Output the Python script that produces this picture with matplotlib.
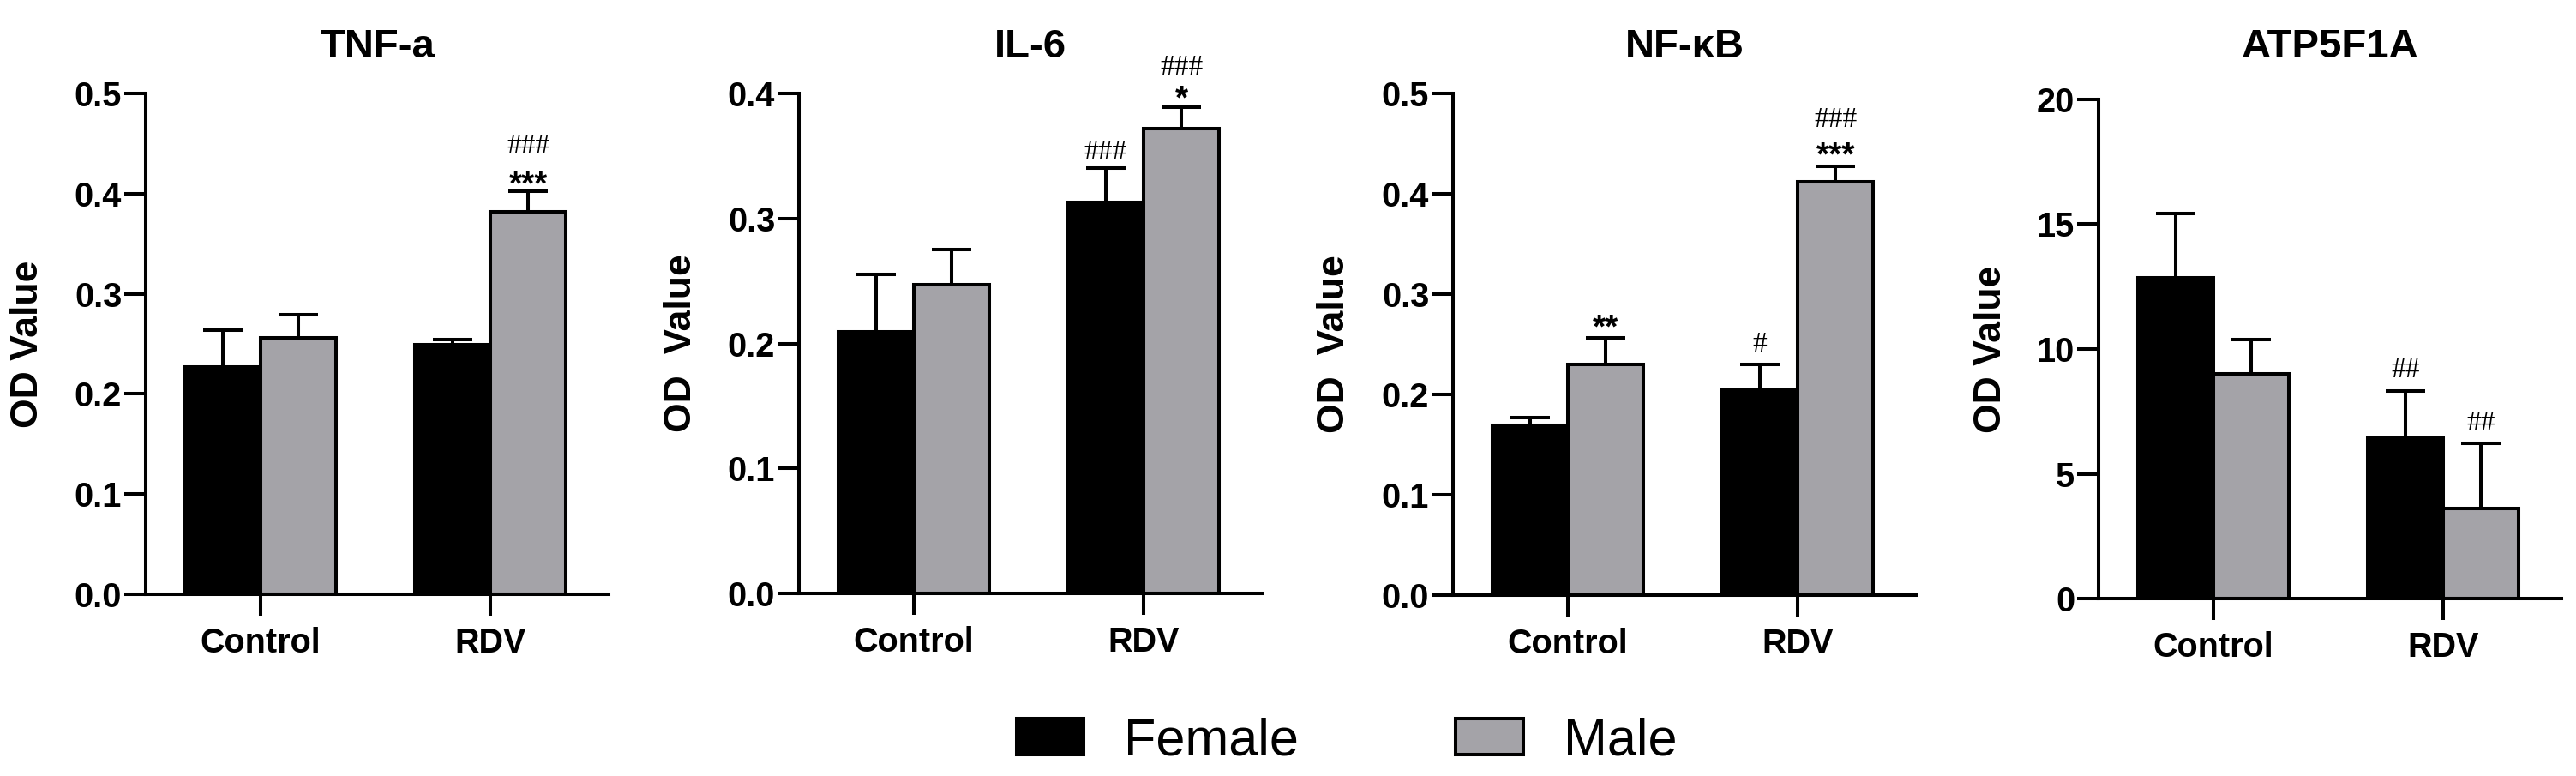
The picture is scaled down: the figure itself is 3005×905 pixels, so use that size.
import numpy as np
import matplotlib
matplotlib.use("Agg")
import matplotlib.pyplot as plt

# ---------------- data ----------------
groups = ["Control", "RDV"]
series_names = ["Female", "Male"]
titles = ["TNF-a", "IL-6", "NF-κB", "ATP5F1A"]
ylabels = ["OD Value", "OD  Value", "OD  Value", "OD Value"]

tnf_female = [0.227, 0.249]
tnf_female_err = [0.037, 0.005]
tnf_male = [0.256, 0.382]
tnf_male_err = [0.023, 0.020]

il6_female = [0.209, 0.313]
il6_female_err = [0.046, 0.027]
il6_male = [0.247, 0.372]
il6_male_err = [0.028, 0.017]

nfkb_female = [0.169, 0.204]
nfkb_female_err = [0.008, 0.026]
nfkb_male = [0.230, 0.412]
nfkb_male_err = [0.026, 0.015]

atp_female = [12.84, 6.42]
atp_female_err = [2.59, 1.88]
atp_male = [9.02, 3.61]
atp_male_err = [1.36, 2.60]

yticks_tnf = [0.0, 0.1, 0.2, 0.3, 0.4, 0.5]
yticks_il6 = [0.0, 0.1, 0.2, 0.3, 0.4]
yticks_nfkb = [0.0, 0.1, 0.2, 0.3, 0.4, 0.5]
yticks_atp = [0, 5, 10, 15, 20]

# significance marks: (group index, series index, text, y baseline)
marks_tnf = [(1, 1, "***", 0.399), (1, 1, "###", 0.440)]
marks_il6 = [(1, 0, "###", 0.347), (1, 1, "*", 0.388), (1, 1, "###", 0.415)]
marks_nfkb = [(0, 1, "**", 0.257), (1, 0, "#", 0.243), (1, 1, "***", 0.429), (1, 1, "###", 0.467)]
marks_atp = [(1, 0, "##", 8.87), (1, 1, "##", 6.73)]

panels = [
    (tnf_female, tnf_female_err, tnf_male, tnf_male_err, yticks_tnf, marks_tnf, "{:.1f}"),
    (il6_female, il6_female_err, il6_male, il6_male_err, yticks_il6, marks_il6, "{:.1f}"),
    (nfkb_female, nfkb_female_err, nfkb_male, nfkb_male_err, yticks_nfkb, marks_nfkb, "{:.1f}"),
    (atp_female, atp_female_err, atp_male, atp_male_err, yticks_atp, marks_atp, "{:.0f}"),
]

# ---------------- layout / style ----------------
W, H = 3005, 905
DPI = 100
fig = plt.figure(figsize=(W / DPI, H / DPI), dpi=DPI)

# axes rectangles in pixels: left, bottom(y of zero), top(y of max tick)
rects_px = [(170, 693, 109), (932, 692, 109), (1695, 694, 109), (2448, 698, 116)]
ax_w_px = 540
ylabel_off_px = [-137, -138, -139, -125]

female_color = "black"
male_color = "#a4a3a8"
LW = 2.9
bar_w = 0.33
SANS = "Liberation Sans"
SERIF = "Liberation Serif"

bars_for_legend = None
x = np.arange(len(groups))
for i, (f, fe, m, me, yt, marks, fmt) in enumerate(panels):
    l, b, t = rects_px[i]
    ax = fig.add_axes([l / W, 1 - b / H, ax_w_px / W, (b - t) / H])
    ax.set_xlim(-0.5, 1.515)
    ax.set_ylim(yt[0], yt[-1])

    bf = ax.bar(x - bar_w / 2, f, width=bar_w, color=female_color,
                edgecolor="black", linewidth=LW, zorder=2, label=series_names[0])
    bm = ax.bar(x + bar_w / 2, m, width=bar_w, color=male_color,
                edgecolor="black", linewidth=LW, zorder=2, label=series_names[1])
    if bars_for_legend is None:
        bars_for_legend = (bf, bm)
    for xs, vals, errs in [(x - bar_w / 2, f, fe), (x + bar_w / 2, m, me)]:
        eb = ax.errorbar(xs, vals, yerr=[np.zeros(len(vals)), errs], fmt="none",
                         ecolor="black", elinewidth=LW, capsize=16.5,
                         capthick=LW, zorder=1)
        eb[1][0].set_visible(False)

    offsets = [-bar_w / 2, bar_w / 2]
    for gi, si, txt, yv in marks:
        if "#" in txt:
            ax.text(gi + offsets[si], yv, txt, ha="center", va="baseline",
                    fontsize=24, family=SERIF, clip_on=False, zorder=5)
        else:
            ax.text(gi + offsets[si], yv, txt, ha="center", va="baseline",
                    fontsize=28, family=SANS, fontweight="bold", clip_on=False, zorder=5)

    for s in ["top", "right"]:
        ax.spines[s].set_visible(False)
    for s in ["left", "bottom"]:
        ax.spines[s].set_linewidth(LW)
    ax.spines["left"].set_bounds(yt[0], yt[-1])

    ax.set_yticks(yt)
    ax.set_yticklabels([fmt.format(v) for v in yt], family=SANS,
                       fontweight="bold", fontsize=28.5)
    ax.set_xticks(x)
    ax.set_xticklabels(groups, family=SANS, fontweight="bold", fontsize=28.5)
    ax.tick_params(axis="both", direction="out", length=18, width=LW, color="black")
    ax.tick_params(axis="y", pad=2)
    ax.tick_params(axis="x", pad=9)

    ax.text((ylabel_off_px[i] + 0) / ax_w_px, 0.5, ylabels[i], transform=ax.transAxes,
            rotation=90, ha="center", va="center", fontsize=32,
            family=SANS, fontweight="bold")

    fig.text((l + ax_w_px / 2) / W, 1 - 67 / H, titles[i], ha="center",
             va="baseline", fontsize=34, family=SANS, fontweight="bold")

leg = fig.legend(bars_for_legend, series_names, loc="center",
                 bbox_to_anchor=(1571 / W, 1 - 865 / H), ncol=2, frameon=False,
                 prop={"family": SANS, "size": 44}, handlelength=1.28,
                 handleheight=0.69, handletextpad=0.77, columnspacing=3.0,
                 borderpad=0, borderaxespad=0)

fig.savefig("out.png", dpi=DPI)
